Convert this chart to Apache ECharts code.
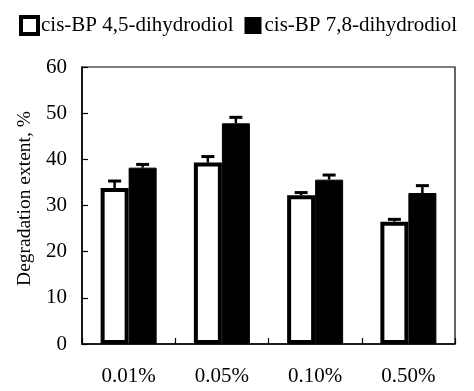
<!DOCTYPE html>
<html><head><meta charset="utf-8">
<script src="https://cdn.jsdelivr.net/npm/echarts@6/dist/echarts.min.js"></script>
<style>html,body{margin:0;padding:0;background:#fff}#c{width:474px;height:391px}</style>
</head><body><div id="c"></div>
<script>
const categories = ['0.01%', '0.05%', '0.10%', '0.50%'];
const seriesNames = ['cis-BP 4,5-dihydrodiol', 'cis-BP 7,8-dihydrodiol'];
const values45 = [33.8, 39.3, 32.2, 26.5];
const errors45 = [1.5, 1.3, 0.6, 0.5];
const values78 = [38.2, 47.8, 35.6, 32.7];
const errors78 = [0.7, 1.3, 1.0, 1.6];
const yTicks = [0, 10, 20, 30, 40, 50, 60];

const FONT = 'Liberation Serif';
const BW = 28;

function errSeries(vals, errs, offset) {
  return {
    type: 'custom',
    z: 5,
    data: vals.map((v, i) => [i, v, v + errs[i]]),
    renderItem: function (params, api) {
      const base = api.coord([api.value(0), api.value(1)]);
      const top = api.coord([api.value(0), api.value(2)]);
      const x = base[0] + offset;
      return {
        type: 'group',
        children: [
          { type: 'line', shape: { x1: x, y1: base[1], x2: x, y2: top[1] }, style: { stroke: '#000', lineWidth: 2.5 } },
          { type: 'line', shape: { x1: x - 6.5, y1: top[1], x2: x + 6.5, y2: top[1] }, style: { stroke: '#000', lineWidth: 3 } }
        ]
      };
    }
  };
}

const chart = echarts.init(document.getElementById('c'), null, { renderer: 'canvas' });
chart.setOption({
  animation: false,
  backgroundColor: '#fff',
  legend: {
    left: 14, top: 10, itemGap: 11, itemWidth: 17, itemHeight: 17,
    textStyle: { fontFamily: FONT, fontSize: 21, color: '#000', padding: [0, 0, 0, -2] },
    data: [
      { name: seriesNames[0], icon: 'rect', itemStyle: { color: '#fff', borderColor: '#000', borderWidth: 4 } },
      { name: seriesNames[1], icon: 'rect', itemStyle: { color: '#000', borderColor: '#000', borderWidth: 0 } }
    ]
  },
  grid: { left: 82, right: 19, top: 67, bottom: 47, show: true, borderColor: '#000', borderWidth: 1.2, containLabel: false },
  xAxis: {
    type: 'category', data: categories,
    axisLine: { lineStyle: { color: '#000', width: 1.5 } },
    axisTick: { show: true, inside: true, length: 6, lineStyle: { color: '#000', width: 1.2 }, interval: 0 },
    axisLabel: { fontFamily: FONT, fontSize: 21, color: '#000', margin: 22 }
  },
  yAxis: {
    type: 'value', min: 0, max: 60, interval: 10,
    name: 'Degradation extent, %', nameLocation: 'middle', nameGap: 47,
    nameTextStyle: { fontFamily: FONT, fontSize: 19.5, color: '#000', padding: [0, 0, 0, 14] },
    axisLine: { show: true, lineStyle: { color: '#000', width: 1.5 } },
    axisTick: { show: true, inside: true, length: 6, lineStyle: { color: '#000', width: 1.2 } },
    splitLine: { show: false },
    axisLabel: { fontFamily: FONT, fontSize: 21, color: '#000', margin: 15,
      formatter: v => yTicks.includes(v) ? String(v) : '' }
  },
  series: [
    { name: seriesNames[0], type: 'bar', data: values45, barWidth: BW, barGap: '0%',
      itemStyle: { color: '#fff', borderColor: '#000', borderWidth: 4 } },
    { name: seriesNames[1], type: 'bar', data: values78, barWidth: BW, barGap: '0%',
      itemStyle: { color: '#000', borderColor: '#000', borderWidth: 1 } },
    errSeries(values45, errors45, -BW / 2),
    errSeries(values78, errors78, BW / 2)
  ]
});
</script></body></html>
